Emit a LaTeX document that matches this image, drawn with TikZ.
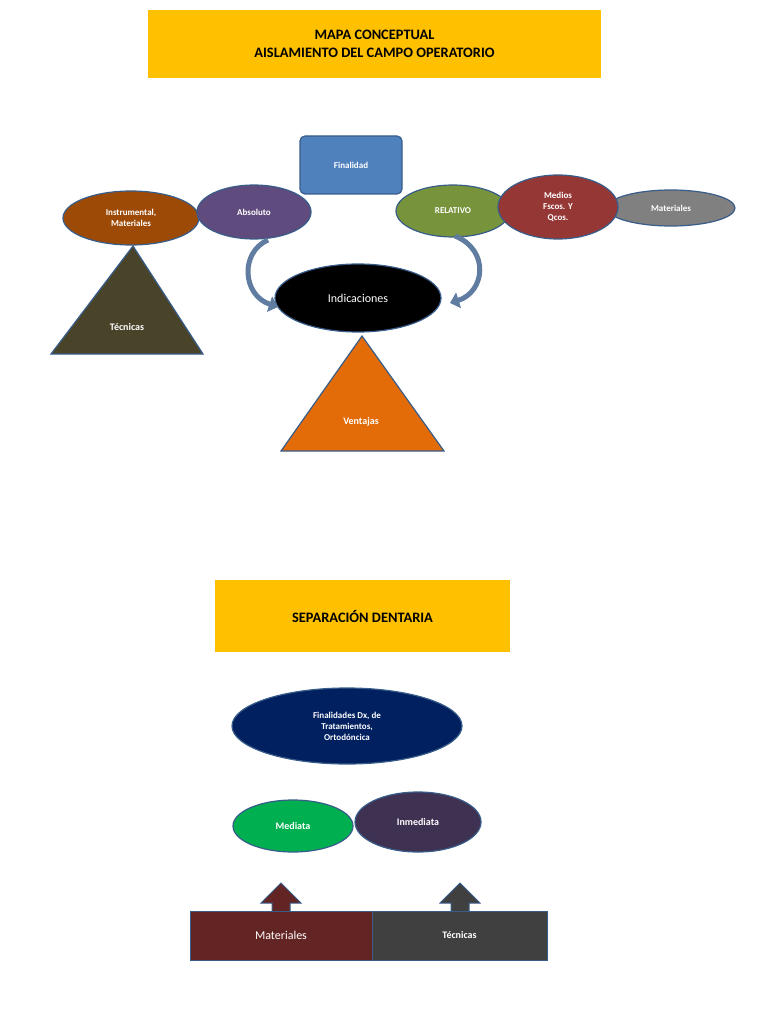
\documentclass[tikz,border=0pt]{standalone}
\usepackage{fontspec}
\setmainfont{Carlito}
\usetikzlibrary{shapes.geometric,arrows.meta}
\definecolor{ybox}{HTML}{FFC000}
\definecolor{bord}{HTML}{385D8A}
\tikzset{
 ell/.style={ellipse,draw=bord,line width=1.2pt,text=white,font=\bfseries\small,align=center,inner sep=0pt},
 tri/.style={draw=bord,line width=1.2pt},
 curv/.style={draw=bord!80,line width=5pt,-{Triangle[length=9pt,width=16pt]},fill=none},
 uparr/.style={draw=bord,line width=1pt}
}
\begin{document}
\begin{tikzpicture}[x=1pt,y=-1pt]
\useasboundingbox (0,0) rectangle (768,1024);
\node[fill=ybox,minimum width=453pt,minimum height=68pt,align=center,font=\bfseries\Large,inner sep=0pt] (title) at (374.5,44) {MAPA CONCEPTUAL\\AISLAMIENTO DEL CAMPO OPERATORIO};
\node[draw=bord,line width=1.2pt,fill=bord!70!cyan!60!blue!80,fill={rgb,255:red,79;green,129;blue,189},rounded corners=5pt,minimum width=102pt,minimum height=58pt,text=white,font=\bfseries\small] (fin) at (351,165) {Finalidad};
% triangles
\draw[tri,fill={rgb,255:red,73;green,68;blue,41}] (133,246) -- (203,354) -- (51,354) -- cycle;
\node[text=white,font=\bfseries] (tec1) at (127,327) {Técnicas};
\draw[tri,fill={rgb,255:red,227;green,108;blue,9}] (362,336) -- (444,451) -- (281,451) -- cycle;
\node[text=white,font=\bfseries] (ven) at (361,422) {Ventajas};
\node[ell,fill={rgb,255:red,156;green,74;blue,6},minimum width=136pt,minimum height=54pt] (ins) at (131,218) {Instrumental,\\Materiales};
\node[ell,fill={rgb,255:red,95;green,75;blue,125},minimum width=114pt,minimum height=54pt] (abs) at (254,212) {Absoluto};
\node[ell,fill={rgb,255:red,119;green,147;blue,60},minimum width=114pt,minimum height=52pt] (rel) at (453,211) {RELATIVO};
\node[ell,fill={rgb,255:red,128;green,128;blue,128},minimum width=128pt,minimum height=36pt] (mat1) at (671,208) {Materiales};
\node[ell,fill={rgb,255:red,149;green,55;blue,53},minimum width=120pt,minimum height=64pt] (med) at (558,207) {Medios\\Fscos. Y\\Qcos.};
\node[ell,fill=black,minimum width=166pt,minimum height=68pt,font=\large] (ind) at (358,298) {Indicaciones};
\coordinate (a1) at (268,240);
\coordinate (a2) at (278,307);
\coordinate (b1) at (455,236);
\coordinate (b2) at (450,303);
\draw[curv] (a1) .. controls (240,252) and (242,295) .. (a2);
\draw[curv] (b1) .. controls (490,250) and (485,292) .. (b2);
% section 2
\node[fill=ybox,minimum width=295pt,minimum height=72pt,font=\bfseries\Large,inner sep=0pt] (t2) at (362.5,616) {SEPARACIÓN DENTARIA};
\node[ell,fill={rgb,255:red,0;green,32;blue,96},minimum width=230pt,minimum height=76pt] (fd) at (347,726) {Finalidades Dx, de\\Tratamientos,\\Ortodóncica};
\node[ell,fill={rgb,255:red,0;green,176;blue,80},minimum width=120pt,minimum height=52pt,font=\bfseries] (mdt) at (293,826) {Mediata};
\node[ell,fill={rgb,255:red,63;green,49;blue,81},minimum width=126pt,minimum height=60pt,font=\bfseries] (inm) at (418,822) {Inmediata};
\draw[uparr,fill={rgb,255:red,99;green,37;blue,35}] (272,911) -- (272,903) -- (261,903) -- (281,883) -- (301,903) -- (290,903) -- (290,911);
\draw[uparr,fill={rgb,255:red,64;green,64;blue,64}] (451,911) -- (451,903) -- (440,903) -- (460,883) -- (480,903) -- (469,903) -- (469,911);
\node[draw=bord,line width=1pt,fill={rgb,255:red,99;green,37;blue,35},minimum width=182pt,minimum height=49pt,text=white,font=\large,inner sep=0pt] (mat2) at (281,935.5) {Materiales};
\node[draw=bord,line width=1pt,fill={rgb,255:red,64;green,64;blue,64},minimum width=175pt,minimum height=49pt,text=white,font=\bfseries,inner sep=0pt] (tec2) at (459.5,935.5) {Técnicas};
\end{tikzpicture}
\end{document}
